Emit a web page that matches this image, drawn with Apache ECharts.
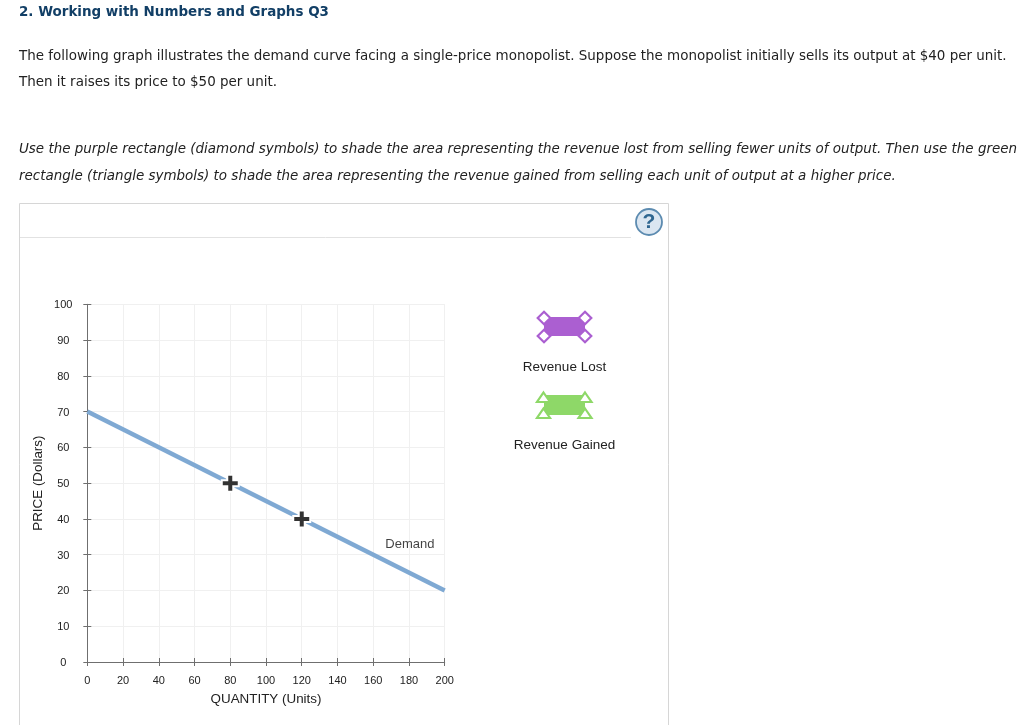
<!DOCTYPE html>
<html>
<head>
<meta charset="utf-8">
<title>Working with Numbers and Graphs Q3</title>
<script src="https://cdn.jsdelivr.net/npm/echarts@6/dist/echarts.min.js"></script>
<style>
    html, body { margin: 0; padding: 0; background: #fff; overflow: hidden; }
    #chart { position: absolute; left: 0; top: 0; width: 1024px; height: 725px; }
    .line { position: absolute; left: 19px; white-space: nowrap; font-family: "DejaVu Sans", sans-serif; font-size: 13.46px; line-height: 16px; color: #222; }
    .head { font-weight: bold; color: #123f66; }
    .em { font-style: italic; }
</style>
</head>
<body>
<div id="chart"></div>
<div class="line head" style="top:4px">2. Working with Numbers and Graphs Q3</div>
<div class="line" style="top:48px">The following graph illustrates the demand curve facing a single-price monopolist. Suppose the monopolist initially sells its output at $40 per unit.</div>
<div class="line" style="top:74px">Then it raises its price to $50 per unit.</div>
<div class="line em" style="top:141px">Use the purple rectangle (diamond symbols) to shade the area representing the revenue lost from selling fewer units of output. Then use the green</div>
<div class="line em" style="top:168px">rectangle (triangle symbols) to shade the area representing the revenue gained from selling each unit of output at a higher price.</div>
<script>
// chart values
const demandLine = [[0, 70], [200, 20]];
const pricePoints = [[80, 50], [120, 40]];
const demandLabelPoint = [[180.5, 33]];

const xMax = 200, xStep = 20;
const yMax = 100, yStep = 10;

const PURPLE = '#ab5fd1';
const GREEN = '#8ed868';
const TEXT = '#222';
const LABEL_FONT = '"Liberation Sans", Arial, sans-serif';

const PLUS = 'path://M5.5,0H11.5V5.5H17V11.5H11.5V17H5.5V11.5H0V5.5H5.5Z';

// palette pieces
function diamond(cx, cy) {
    return {
        type: 'polygon',
        shape: { points: [[cx, cy - 6.3], [cx + 6.3, cy], [cx, cy + 6.3], [cx - 6.3, cy]] },
        style: { fill: '#fff', stroke: PURPLE, lineWidth: 2.2 },
        z: 11
    };
}
function triangle(cx, baseY) {
    return {
        type: 'polygon',
        shape: { points: [[cx, baseY - 9.5], [cx + 6.5, baseY], [cx - 6.5, baseY]] },
        style: { fill: '#fff', stroke: GREEN, lineWidth: 2.2 },
        z: 11
    };
}
function paletteText(text, x, y) {
    return {
        type: 'text', x: x, y: y,
        style: { text: text, fill: '#222', font: '13.5px ' + LABEL_FONT, textAlign: 'center', textVerticalAlign: 'middle' },
        z: 11
    };
}

const graphic = [
    // panel frame
    { type: 'polyline', shape: { points: [[19.5, 725], [19.5, 203.5], [668.5, 203.5], [668.5, 725]] }, style: { fill: 'none', stroke: '#d6d6d6', lineWidth: 1 } },
    { type: 'line', shape: { x1: 20, y1: 237.5, x2: 631, y2: 237.5 }, style: { stroke: '#e2e2e2', lineWidth: 1 } },
    // help button
    { type: 'circle', shape: { cx: 649, cy: 222, r: 13 }, style: { fill: '#dbe6f1', stroke: '#5c8bb0', lineWidth: 1.8 } },
    { type: 'text', x: 649, y: 222, style: { text: '?', fill: '#2f6690', font: 'bold 21px ' + LABEL_FONT, textAlign: 'center', textVerticalAlign: 'middle' }, z: 11 },
    // revenue lost palette
    { type: 'rect', shape: { x: 544, y: 317, width: 41, height: 19 }, style: { fill: PURPLE }, z: 10 },
    diamond(544, 318), diamond(585, 318), diamond(544, 336), diamond(585, 336),
    paletteText('Revenue Lost', 564.5, 367.5),
    // revenue gained palette
    { type: 'rect', shape: { x: 544, y: 395, width: 41, height: 20 }, style: { fill: GREEN }, z: 10 },
    triangle(543.5, 402), triangle(585, 402), triangle(543.5, 418), triangle(585, 418),
    paletteText('Revenue Gained', 564.5, 445.5)
];

const chart = echarts.init(document.getElementById('chart'), null, { renderer: 'canvas' });

const axisText = { color: TEXT, fontFamily: LABEL_FONT, fontSize: 11 };
const nameText = { color: '#222', fontFamily: LABEL_FONT, fontSize: 13.4 };

chart.setOption({
    animation: false,
    backgroundColor: '#fff',
    grid: { left: 87.3, top: 304.3, width: 357.4, height: 357.7, containLabel: false },
    xAxis: [
        {
            type: 'value', min: 0, max: xMax, interval: xStep,
            name: 'QUANTITY (Units)', nameLocation: 'middle', nameGap: 31,
            nameTextStyle: nameText,
            axisLine: { onZero: false, lineStyle: { color: '#6f6f6f', width: 1 } },
            axisTick: { length: 4, lineStyle: { color: '#6f6f6f' } },
            axisLabel: Object.assign({ margin: 13, hideOverlap: false, showMinLabel: true, showMaxLabel: true }, axisText),
            splitLine: { show: true, lineStyle: { color: '#f0f0f0', width: 1 } }
        },
        {
            // second axis only for the inner half of the ticks
            type: 'value', min: 0, max: xMax, interval: xStep, position: 'bottom',
            axisLine: { show: false },
            axisTick: { inside: true, length: 4, lineStyle: { color: '#6f6f6f' } },
            axisLabel: { show: false }, splitLine: { show: false }
        }
    ],
    yAxis: [
        {
            type: 'value', min: 0, max: yMax, interval: yStep,
            name: 'PRICE (Dollars)', nameLocation: 'middle', nameGap: 42, nameRotate: 90,
            nameTextStyle: nameText,
            axisLine: { onZero: false, lineStyle: { color: '#6f6f6f', width: 1 } },
            axisTick: { length: 4, lineStyle: { color: '#6f6f6f' } },
            // top + tiny line height pushes the digits about 1px down
            axisLabel: Object.assign({ margin: 24, align: 'center', verticalAlign: 'top', lineHeight: 2, showMinLabel: true, showMaxLabel: true }, axisText),
            splitLine: { show: true, lineStyle: { color: '#f0f0f0', width: 1 } }
        },
        {
            type: 'value', min: 0, max: yMax, interval: yStep, position: 'left',
            axisLine: { show: false },
            axisTick: { inside: true, length: 4, lineStyle: { color: '#6f6f6f' } },
            axisLabel: { show: false }, splitLine: { show: false }
        }
    ],
    series: [
        {
            name: 'Demand', type: 'line', data: demandLine,
            showSymbol: false, symbol: 'none', silent: true,
            lineStyle: { color: '#7fa9d3', width: 4.5, cap: 'butt' }, z: 3
        },
        {
            name: 'Points', type: 'scatter', data: pricePoints,
            symbol: PLUS, symbolSize: 17, silent: true,
            itemStyle: { color: '#333', borderColor: '#fff', borderWidth: 2, opacity: 1 }, z: 4
        },
        {
            name: 'Demand label', type: 'scatter', data: demandLabelPoint,
            symbolSize: 0, silent: true,
            label: { show: true, position: 'inside', formatter: 'Demand', color: '#111', textBorderWidth: 0, fontFamily: LABEL_FONT, fontSize: 13 }, z: 5
        }
    ],
    graphic: graphic
});
</script>
</body>
</html>
